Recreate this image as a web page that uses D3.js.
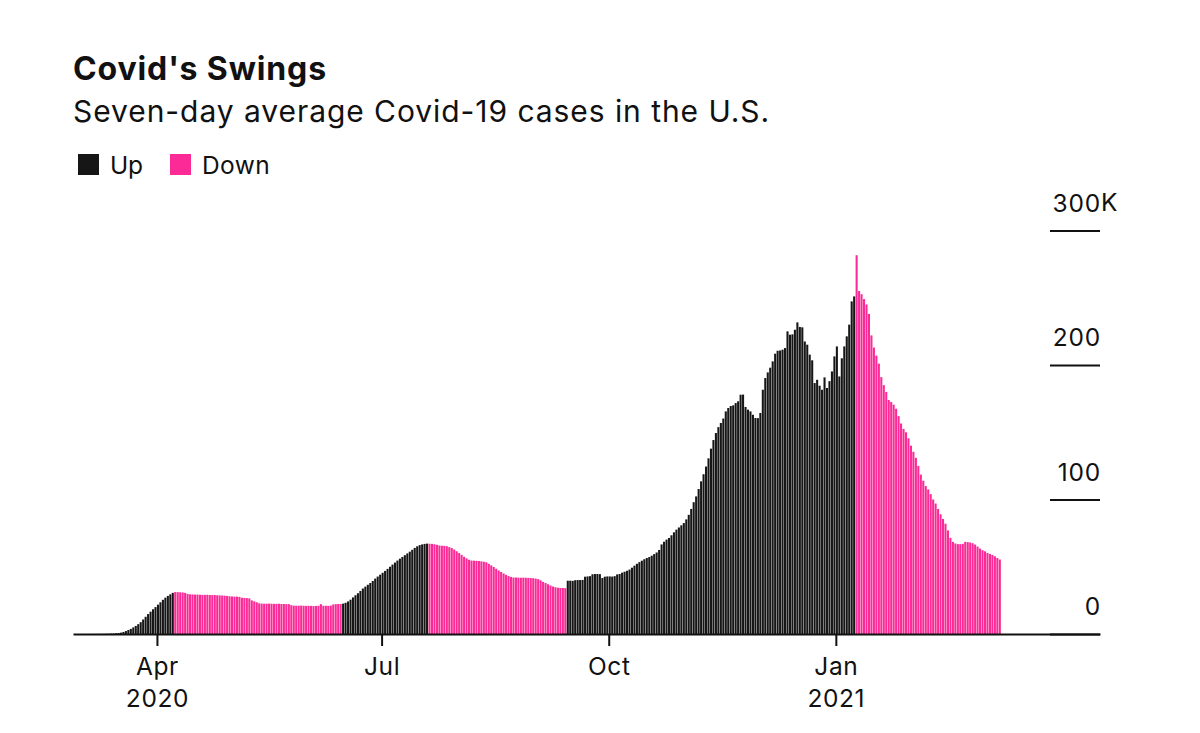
<!DOCTYPE html>
<html>
<head>
<meta charset="utf-8">
<script src="https://cdn.jsdelivr.net/npm/d3@7"></script>
<style>
  body { margin: 0; background: #fff; }
  svg text { font-family: Inter, "Liberation Sans", Arial, sans-serif; fill: #111; }
</style>
</head>
<body>
<svg id="chart" width="1200" height="733"></svg>
<script>
// Seven-day average of US cases, thousands, one value per day from startDate
const startDate = "2020-02-27";
const upMarch = [0, 0, 0, 0.01, 0.01, 0.02, 0.03, 0.04, 0.06, 0.07, 0.09, 0.11, 0.13, 0.18, 0.25, 0.33,
  0.42, 0.55, 0.75, 1.0, 1.5, 2.2, 3.0, 3.8, 4.9, 6.0, 7.3, 8.8, 10.8, 12.8, 14.8, 16.6, 18.4, 20.0,
  21.8, 23.6, 25.4, 27.0, 28.3, 29.5, 30.6];
const downSpring = [31.2, 31.1, 31.0, 30.9, 30.6, 29.8, 29.5, 29.4, 29.3, 29.3, 29.2, 29.0, 29.1, 29.2,
  29.0, 28.9, 29.0, 28.8, 28.7, 28.6, 28.5, 28.3, 28.0, 27.9, 27.8, 27.8, 27.6, 26.9, 26.8, 26.7, 26.5,
  25.0, 24.3, 23.6, 22.8, 22.6, 22.5, 22.5, 22.6, 22.5, 22.4, 22.4, 22.5, 22.3, 22.3, 22.2, 22.2, 21.4,
  21.1, 21.0, 21.0, 21.1, 21.0, 20.9, 21.0, 20.9, 20.8, 20.9, 21.0, 22.2, 21.0, 21.0, 20.9, 21.1, 22.0,
  22.2, 22.3, 22.3];
const upSummer = [22.6, 23.2, 24.2, 25.5, 27.2, 28.8, 30.3, 32.0, 33.8, 35.2, 36.6, 37.9, 39.4, 41.2,
  42.7, 44.1, 45.5, 46.9, 48.4, 50.0, 51.6, 53.1, 54.6, 56.0, 57.3, 58.6, 59.9, 61.2, 62.6, 64.0, 65.2,
  66.1, 66.6, 67.0, 67.2];
const downAugust = [67.1, 67.0, 66.7, 66.3, 65.8, 65.6, 65.5, 65.3, 64.6, 63.9, 62.8, 61.5, 60.2, 58.8,
  57.4, 56.2, 55.2, 54.6, 54.5, 54.4, 54.3, 54.0, 53.7, 53.3, 52.2, 51.0, 49.8, 48.5, 47.2, 46.1, 45.0,
  44.0, 43.1, 42.4, 42.0, 42.0, 41.9, 41.8, 41.9, 41.8, 41.7, 41.6, 41.5, 41.2, 40.8, 39.9, 38.8, 37.9,
  37.0, 36.0, 35.3, 34.8, 34.4, 34.2, 34.2, 34.1];
const upFall = [39.6, 39.6, 39.5, 40.0, 40.1, 40.1, 40.2, 42.6, 42.8, 43.0, 44.4, 44.6, 44.6, 44.5, 41.6,
  42.6, 42.8, 42.8, 42.7, 43.0, 44.3, 44.6, 45.6, 46.3, 47.0, 47.9, 49.3, 50.8, 52.2, 53.4, 54.5, 55.6,
  56.5, 57.2, 58.2, 59.4, 60.6, 62.5, 66.6, 68.6, 70.2, 71.4, 73.4, 75.6, 77.6, 79.2, 80.8, 82.5, 85.2,
  88.6, 93.0, 98.0, 102.3, 107.8, 113.5, 118.8, 124.5, 130.6, 137.8, 144.2, 149.4, 153.8, 156.9, 160.2,
  165.5, 168.0, 169.5, 170.0, 171.7, 173.0, 177.9, 178.0, 168.8, 166.8, 165.5, 163.0, 160.6, 160.5,
  164.3, 181.6, 190.3, 194.5, 198.0, 202.7, 208.4, 210.6, 210.8, 211.4, 212.6, 225.0, 222.5, 222.8,
  226.2, 231.7, 228.3, 228.0, 217.5, 215.1, 207.7, 203.5, 186.6, 189.0, 184.6, 181.6, 190.8, 182.9,
  188.0, 195.2, 206.4, 213.8, 191.5, 205.0, 213.8, 221.3, 230.0, 247.3, 251.0];
const downWinter = [281.6, 255.0, 252.6, 249.0, 245.0, 238.0, 222.0, 213.0, 207.0, 201.0, 191.0, 185.0,
  180.0, 174.0, 172.5, 170.5, 167.5, 162.0, 156.5, 152.5, 150.0, 145.5, 140.0, 135.5, 131.0, 125.0,
  118.5, 114.0, 110.0, 107.5, 104.0, 100.0, 97.0, 93.0, 89.0, 85.5, 82.0, 77.0, 71.5, 68.5, 67.3, 66.8,
  66.8, 67.0, 68.5, 68.3, 68.0, 67.5, 66.5, 65.0, 63.5, 62.3, 61.5, 60.3, 59.5, 58.8, 57.8, 56.5, 55.4];

const runs = [upMarch, downSpring, upSummer, downAugust, upFall, downWinter];
const runTrends = ["Up", "Down", "Up", "Down", "Up", "Down"];
const trendLabels = ["Up", "Down"];
const trendColors = ["#161616", "#fb2a96"];

const xTickDates = ["2020-04-01", "2020-07-01", "2020-10-01", "2021-01-01"];
const xTickLabels = [["Apr", "2020"], ["Jul"], ["Oct"], ["Jan", "2021"]];
const yTickValues = [0, 100, 200, 300];
const yTickLabels = ["0", "100", "200", "300"];

drawChart();

// Spread letters so a line of text spans the given width
function fitText(sel, target) {
    let len = sel.node().getComputedTextLength();
    let n = sel.text().length;
    sel.style("letter-spacing", ((target - len) / n) + "px");
}

function drawChart() {
    let svg = d3.select("#chart");
    let parse = d3.utcParse("%Y-%m-%d");
    let start = parse(startDate);

    // Flatten runs into daily rows, keeping the trend of each run
    let days = [];
    runs.forEach((run, r) => {
        for (let v of run) {
            days.push({
                date: d3.utcDay.offset(start, days.length),
                value: v,
                trend: runTrends[r]
            });
        }
    });

    let x = d3.scaleUtc()
        .domain([start, parse("2021-04-18")])
        .range([73, 1100]);
    let y = d3.scaleLinear()
        .domain([0, 300])
        .range([634, 230.5]);
    let color = d3.scaleOrdinal().domain(trendLabels).range(trendColors);

    // Title block
    let title = svg.append("text").attr("x", 73).attr("y", 80)
        .style("font-size", "32px").style("font-weight", 700)
        .text("Covid's Swings");
    fitText(title, 254);
    let subtitle = svg.append("text").attr("x", 73).attr("y", 122)
        .style("font-size", "30px")
        .text("Seven-day average Covid-19 cases in the U.S.");
    fitText(subtitle, 697);

    // Legend
    let legend = svg.append("g");
    let legendX = [78, 170];
    let legendW = [33, 68];
    trendLabels.forEach((t, i) => {
        legend.append("rect")
            .attr("x", legendX[i]).attr("y", 154)
            .attr("width", 21).attr("height", 21)
            .style("fill", color(t));
        let lt = legend.append("text")
            .attr("x", legendX[i] + 32).attr("y", 174)
            .style("font-size", "24.5px")
            .text(t);
        fitText(lt, legendW[i]);
    });

    // Daily bars
    svg.append("g").selectAll("rect")
        .data(days)
        .enter()
        .append("rect")
        .attr("x", d => x(d.date))
        .attr("y", d => y(d.value))
        .attr("width", d => x(d3.utcDay.offset(d.date, 1)) - x(d.date) - 0.4)
        .attr("height", d => y(0) - y(d.value))
        .style("fill", d => color(d.trend));

    // X axis with two-line labels
    let xAxis = svg.append("g")
        .attr("transform", `translate(0,${y(0)})`)
        .call(d3.axisBottom(x)
            .tickValues(xTickDates.map(parse))
            .tickSize(12)
            .tickSizeOuter(0)
            .tickFormat(""));
    xAxis.select(".domain").attr("stroke", "#111").attr("stroke-width", 2);
    xAxis.selectAll(".tick line").attr("stroke", "#111").attr("stroke-width", 2);
    xAxis.selectAll(".tick").each(function (d, i) {
        let t = d3.select(this).append("text")
            .attr("text-anchor", "middle")
            .attr("y", 41)
            .style("font-size", "24.5px")
            .style("letter-spacing", "0.6px")
            .attr("fill", "#111");
        xTickLabels[i].forEach((line, j) => {
            t.append("tspan").attr("x", 0).attr("dy", j == 0 ? 0 : 32).text(line);
        });
    });

    // Y axis on the right, labels sit on top of short rules
    let yAxis = svg.append("g")
        .attr("transform", "translate(1100,0)")
        .call(d3.axisLeft(y)
            .tickValues(yTickValues)
            .tickSize(50)
            .tickFormat((d, i) => yTickLabels[i]));
    yAxis.select(".domain").remove();
    yAxis.selectAll(".tick line").attr("stroke", "#111").attr("stroke-width", 2);
    yAxis.selectAll(".tick text")
        .attr("x", 1)
        .attr("dy", -19.5)
        .style("font-size", "24.5px")
        .style("letter-spacing", "0.8px")
        .attr("fill", "#111");
    // "K" hangs past the right edge of the top label
    svg.append("text")
        .attr("x", 1101).attr("y", y(300) - 19.5)
        .style("font-size", "24.5px")
        .text("K");
}
</script>
</body>
</html>
